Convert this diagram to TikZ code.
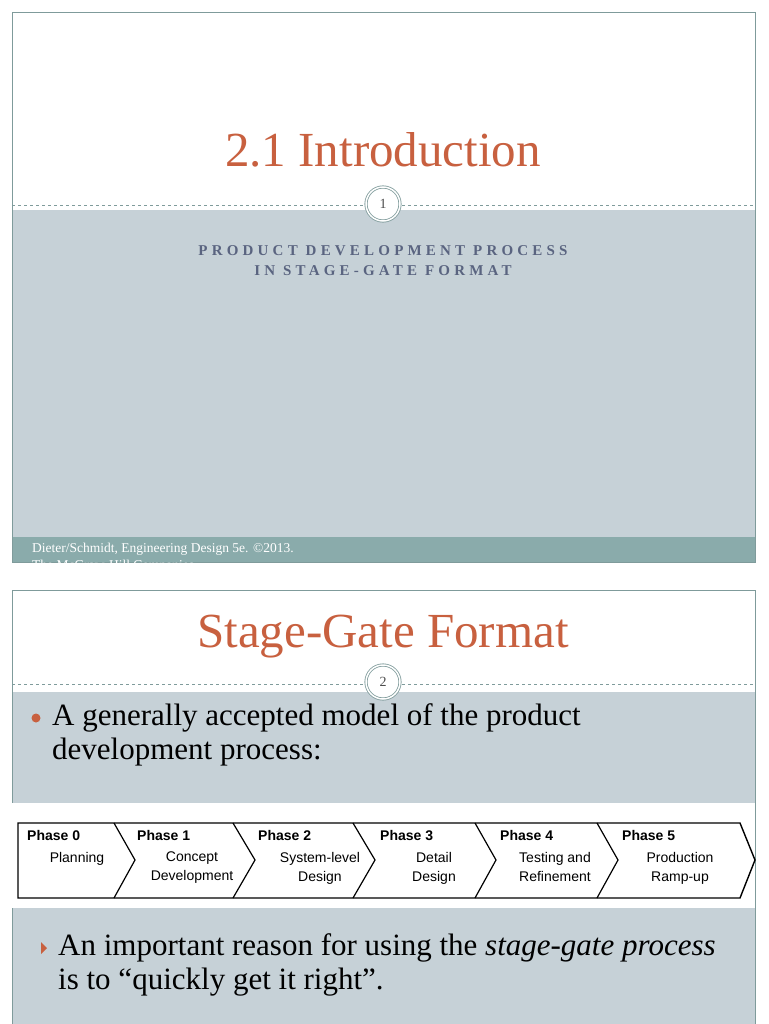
\documentclass[tikz,border=0pt]{standalone}
\usepackage{fontspec}
\setmainfont{Liberation Serif}
\newfontfamily\sansf{Liberation Sans}
\newfontfamily\spaced[LetterSpace=28]{Liberation Serif}
\begin{document}
\begin{tikzpicture}[x=1pt,y=-1pt,
  ttl/.style={text=titleC,font=\fontsize{49}{50}\selectfont,inner sep=0},
  body/.style={anchor=west,font=\fontsize{31}{33}\selectfont,inner sep=0},
  ph/.style={anchor=west,font=\sansf\bfseries\fontsize{14}{16}\selectfont,inner sep=0},
  pt/.style={align=center,anchor=north,font=\sansf\fontsize{14}{19}\selectfont,inner sep=0},
  num/.style={circle,draw=lineC,fill=white,line width=0.8pt,double=white,double distance=1.5pt,minimum size=34pt,inner sep=0,font=\fontsize{14}{15}\selectfont,text=black!70}]
\definecolor{titleC}{HTML}{C8603F}
\definecolor{bgC}{HTML}{C6D1D7}
\definecolor{footC}{HTML}{8AABAB}
\definecolor{lineC}{HTML}{7F9B9B}
\definecolor{subC}{HTML}{5A6480}
\useasboundingbox (0,0) rectangle (768,1024);
\fill[white] (0,0) rectangle (768,1024);
% slide 1
\fill[bgC] (12,210) rectangle (755,537);
\fill[footC] (12,537) rectangle (755,562);
\draw[lineC,line width=0.6pt] (12,12) rectangle (755,562);
\draw[lineC,dashed,line width=0.5pt] (12,205) -- (755,205);
\node[ttl] (t1) at (383,150) {2.1 Introduction};
\node[num] (c1) at (383,204) {1};
\node[text=subC,font=\spaced\bfseries\fontsize{15}{16}\selectfont,inner sep=0] (s1) at (383,251) {PRODUCT DEVELOPMENT PROCESS};
\node[text=subC,font=\spaced\bfseries\fontsize{15}{16}\selectfont,inner sep=0] (s2) at (383,271) {IN STAGE-GATE FORMAT};
\begin{scope}
\clip (12,537) rectangle (755,562);
\node[anchor=west,text=white,font=\fontsize{13.5}{14}\selectfont,inner sep=0] (f1) at (32,549) {Dieter/Schmidt, Engineering Design 5e. \textcopyright 2013.};
\node[anchor=west,text=white,font=\fontsize{13.5}{14}\selectfont,inner sep=0] (f2) at (32,566) {The McGraw-Hill Companies};
\end{scope}
% slide 2
\fill[bgC] (12,692) rectangle (755,1024);
\draw[lineC,line width=0.6pt] (755,1024) -- (755,590) -- (12,590) -- (12,1024);
\draw[lineC,dashed,line width=0.5pt] (12,684) -- (755,684);
\node[ttl] (t2) at (383,637) {Stage-Gate Format};
\node[num] (c2) at (383,682) {2};
\fill[titleC] (36,718) circle (4.5);
\node[body] (b1) at (52,718) {A generally accepted model of the product};
\node[body] (b2) at (52,752) {development process:};
\fill[white] (12,803) rectangle (755,908);
\draw[line width=1.4pt] (18,823) -- (740,823) -- (755,860) -- (740,898) -- (18,898) -- cycle;
\foreach \a/\b in {114/135,233/255,353/375,475/496,597/618}
  \draw[line width=1.2pt] (\a,823) -- (\b,860) -- (\a,898);
\node[ph] (p0) at (27,835) {Phase 0};
\node[ph] (p1) at (137,835) {Phase 1};
\node[ph] (p2) at (258,835) {Phase 2};
\node[ph] (p3) at (380,835) {Phase 3};
\node[ph] (p4) at (500,835) {Phase 4};
\node[ph] (p5) at (622,835) {Phase 5};
\node[pt] (q0) at (77,852) {Planning};
\node[pt] (q1) at (192,852) {Concept\\Development};
\node[pt] (q2) at (320,852) {System-level\\Design};
\node[pt] (q3) at (434,852) {Detail\\Design};
\node[pt] (q4) at (555,852) {Testing and\\Refinement};
\node[pt] (q5) at (680,852) {Production\\Ramp-up};
\fill[titleC] (41,942) -- (47,948) -- (41,954) -- cycle;
\node[body] (b3) at (58,948) {An important reason for using the \textit{stage-gate process}};
\node[body] (b4) at (58,982) {is to “quickly get it right”.};
\end{tikzpicture}
\end{document}
